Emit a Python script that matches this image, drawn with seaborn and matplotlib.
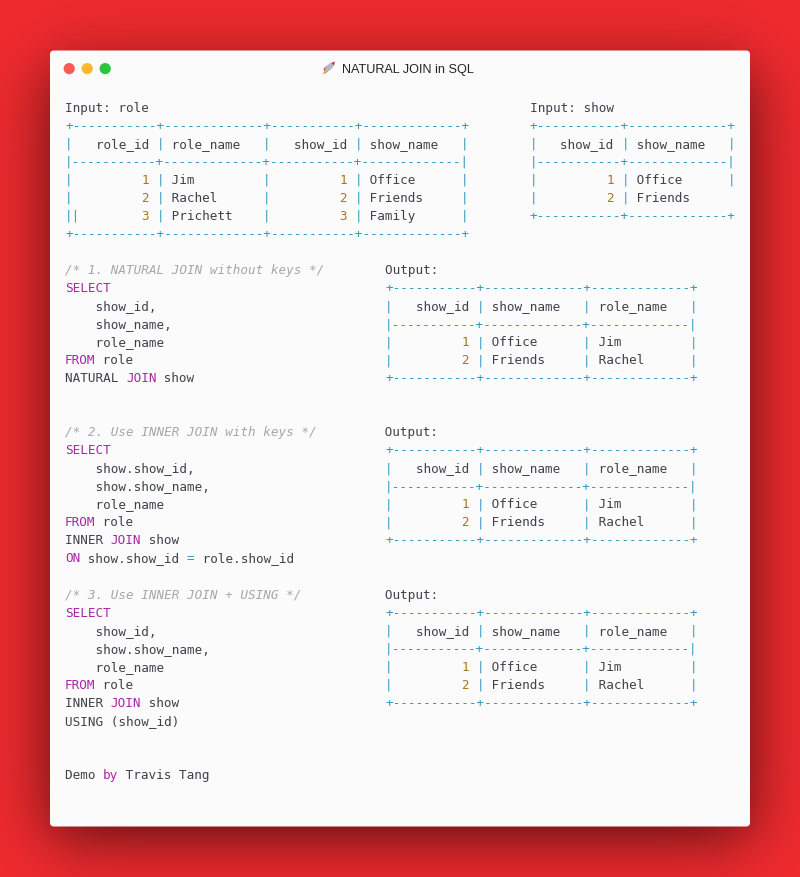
import re
import numpy as np
import matplotlib
matplotlib.use("Agg")
import matplotlib.pyplot as plt
from matplotlib.colors import LinearSegmentedColormap
from matplotlib.patches import FancyBboxPatch, Circle, Ellipse, Polygon
import seaborn as sns

TITLE = "NATURAL JOIN in SQL"
LISTING = [
    "Input: role                                                  Input: show",
    "+-----------+-------------+-----------+-------------+        +-----------+-------------+",
    "|   role_id | role_name   |   show_id | show_name   |        |   show_id | show_name   |",
    "|-----------+-------------+-----------+-------------|        |-----------+-------------|",
    "|         1 | Jim         |         1 | Office      |        |         1 | Office      |",
    "|         2 | Rachel      |         2 | Friends     |        |         2 | Friends",
    "||        3 | Prichett    |         3 | Family      |        +-----------+-------------+",
    "+-----------+-------------+-----------+-------------+",
    "",
    "/* 1. NATURAL JOIN without keys */        Output:",
    "SELECT                                    +-----------+-------------+-------------+",
    "    show_id,                              |   show_id | show_name   | role_name   |",
    "    show_name,                            |-----------+-------------+-------------|",
    "    role_name                             |         1 | Office      | Jim         |",
    "FROM role                                 |         2 | Friends     | Rachel      |",
    "NATURAL JOIN show                         +-----------+-------------+-------------+",
    "",
    "",
    "/* 2. Use INNER JOIN with keys */         Output:",
    "SELECT                                    +-----------+-------------+-------------+",
    "    show.show_id,                         |   show_id | show_name   | role_name   |",
    "    show.show_name,                       |-----------+-------------+-------------|",
    "    role_name                             |         1 | Office      | Jim         |",
    "FROM role                                 |         2 | Friends     | Rachel      |",
    "INNER JOIN show                           +-----------+-------------+-------------+",
    "ON show.show_id = role.show_id",
    "",
    "/* 3. Use INNER JOIN + USING */           Output:",
    "SELECT                                    +-----------+-------------+-------------+",
    "    show_id,                              |   show_id | show_name   | role_name   |",
    "    show.show_name,                       |-----------+-------------+-------------|",
    "    role_name                             |         1 | Office      | Jim         |",
    "FROM role                                 |         2 | Friends     | Rachel      |",
    "INNER JOIN show                           +-----------+-------------+-------------+",
    "USING (show_id)",
    "",
    "",
    "Demo by Travis Tang",
]
KEYWORDS = ["SELECT", "FROM", "JOIN", "ON", "by"]

TEXT_COL = "#3f414a"
KEY_COL = "#a626a4"
NUM_COL = "#a9741a"
BORDER_COL = "#2b97bd"
COMMENT_COL = "#a6a7ad"
WINDOW_COL = "#fbfbfc"

W, H = 800, 878
CHAR_W, LINE_H = 7.62, 18.03
X0, Y0 = 65.0, 111.7
FS = 9.11

sns.set_theme(style="white", rc={"font.family": ["DejaVu Sans Mono"]})
fig = plt.figure(figsize=(W / 100, H / 100), dpi=100)
ax = fig.add_axes([0, 0, 1, 1])

# Backdrop: red wallpaper darkened by the window's soft drop shadow
def soft(v):
    return 1.0 / (1.0 + np.exp(-v))

xs, ys = np.arange(W) + 0.5, np.arange(H) + 0.5
sx = soft((xs - 50) / 18) * soft((750 - xs) / 18)
sy = soft((ys - 71) / 18) * soft((838 - ys) / 18)
shadow = np.outer(sy, sx)
cmap = LinearSegmentedColormap.from_list("bg", ["#ee2a2e", "#530f10"])
sns.heatmap(shadow, ax=ax, cmap=cmap, vmin=0, vmax=1, cbar=False,
            xticklabels=False, yticklabels=False, rasterized=True)
ax.set_xlim(0, W)
ax.set_ylim(H, 0)
ax.axis("off")

ax.add_patch(FancyBboxPatch((53, 54.5), 694, 770, boxstyle="round,pad=3,rounding_size=4",
                            fc=WINDOW_COL, ec="none", zorder=2))
for cx, col in zip((69.2, 87.2, 105.2), ("#fb5a55", "#fdb82e", "#29c53f")):
    ax.add_patch(Circle((cx, 69.6), 5.6, fc=col, ec="none", zorder=3))

# Rocket icon in the title bar
ax.add_patch(Polygon([(323.5, 70), (327, 66.5), (329, 71), (325.5, 74.5)], fc="#c23b35", ec="none", zorder=3))
ax.add_patch(Polygon([(322.5, 74.5), (326, 71), (327, 73.5), (323.5, 75)], fc="#f2a32c", ec="none", zorder=3))
ax.add_patch(Ellipse((329.5, 68), 12.5, 5.4, angle=-45, fc="#b4bac2", ec="none", zorder=4))
ax.add_patch(Polygon([(331.5, 64), (335, 62.5), (334, 66.5)], fc="#c8352e", ec="none", zorder=5))

ax.text(342, 69.5, TITLE, family=["Liberation Sans"], fontsize=9.05, color="#232323",
        va="center", ha="left", zorder=5)

pattern = re.compile(r"(/\*.*?\*/)|\b(" + "|".join(KEYWORDS) + r")\b|(=)|(\b\d\b(?= \|))|([+\-|]+)")

def runs(line):
    pos = 0
    for m in pattern.finditer(line):
        if m.start() > pos:
            yield pos, line[pos:m.start()], TEXT_COL, "normal"
        if m.group(1):
            yield m.start(), m.group(), COMMENT_COL, "italic"
        elif m.group(2):
            yield m.start(), m.group(), KEY_COL, "normal"
        elif m.group(3) or m.group(5):
            yield m.start(), m.group(), BORDER_COL, "normal"
        else:
            yield m.start(), m.group(), NUM_COL, "normal"
        pos = m.end()
    if pos < len(line):
        yield pos, line[pos:], TEXT_COL, "normal"

for row, line in enumerate(LISTING):
    for col, chunk, colour, style in runs(line):
        if chunk.strip():
            ax.text(X0 + col * CHAR_W, Y0 + row * LINE_H, chunk, color=colour, style=style,
                    family=["DejaVu Sans Mono"], fontsize=FS, va="baseline", ha="left", zorder=5)

fig.savefig("out.png", dpi=100)
